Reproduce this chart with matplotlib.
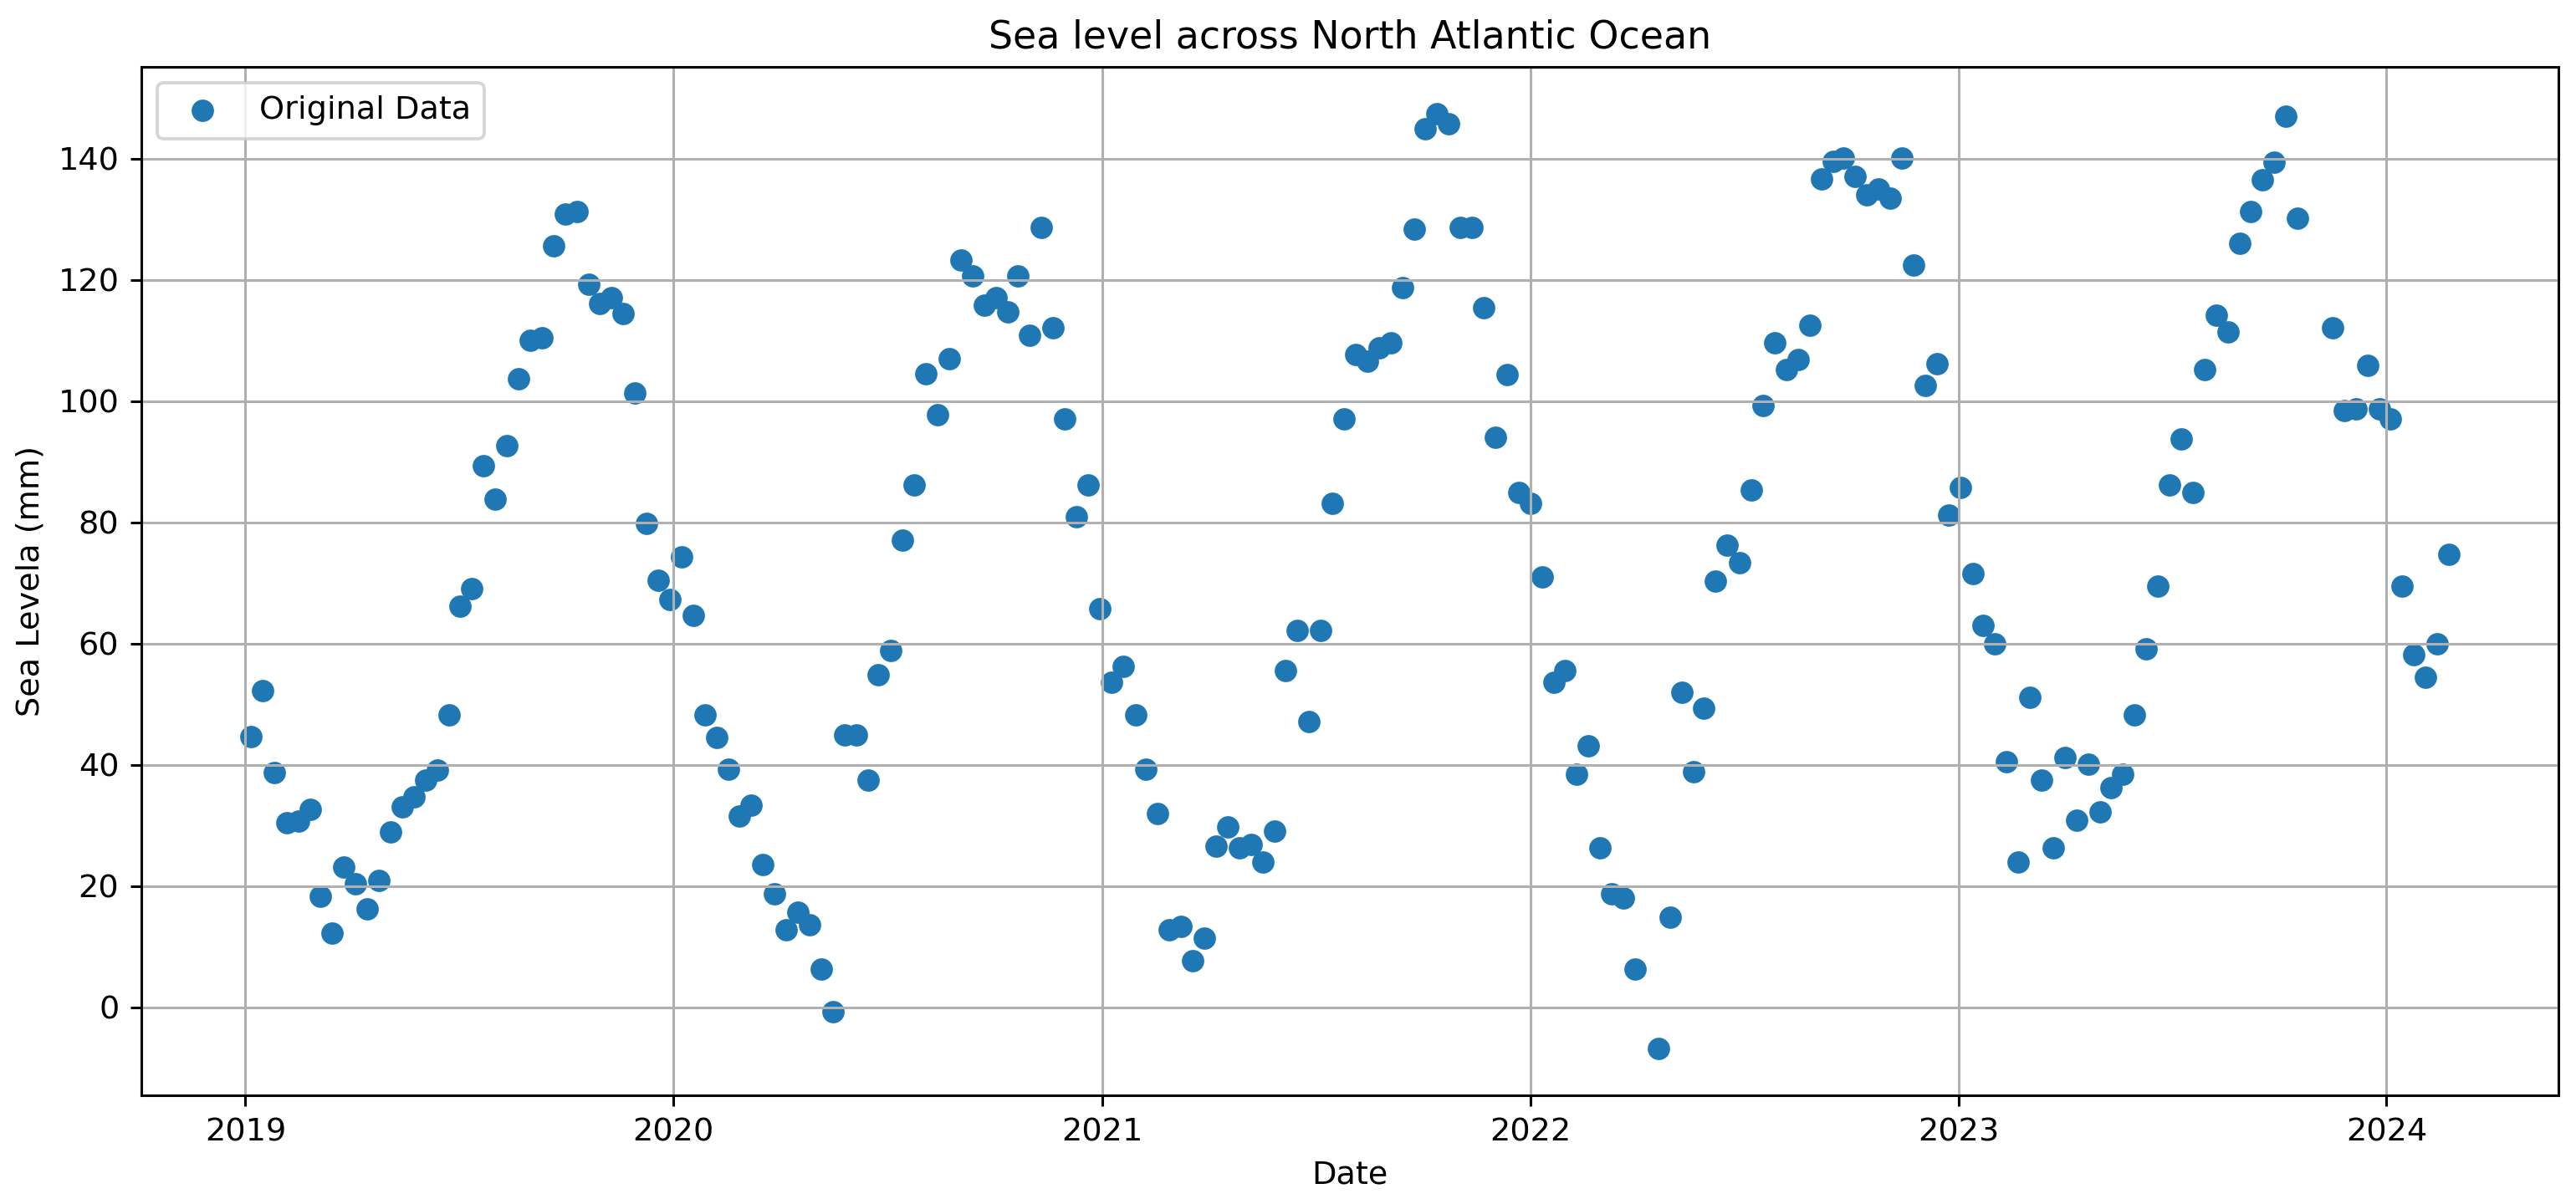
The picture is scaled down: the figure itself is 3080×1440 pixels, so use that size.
import pandas as pd
import matplotlib
matplotlib.use("Agg")
import matplotlib.pyplot as plt

# satellite passes (~10 day cycle), a few passes missing
dates = [
    # 2019
    "2019-01-06", "2019-01-16", "2019-01-26", "2019-02-05", "2019-02-15", "2019-02-25",
    "2019-03-06", "2019-03-16", "2019-03-26", "2019-04-05", "2019-04-15", "2019-04-25",
    "2019-05-05", "2019-05-15", "2019-05-25", "2019-06-04", "2019-06-14", "2019-06-24",
    "2019-07-03", "2019-07-13", "2019-07-23", "2019-08-02", "2019-08-12", "2019-08-22",
    "2019-09-01", "2019-09-11", "2019-09-21", "2019-10-01", "2019-10-11", "2019-10-21",
    "2019-10-30", "2019-11-09", "2019-11-19", "2019-11-29", "2019-12-09", "2019-12-19",
    "2019-12-29",
    # 2020
    "2020-01-08", "2020-01-18", "2020-01-28", "2020-02-07", "2020-02-17", "2020-02-26",
    "2020-03-07", "2020-03-17", "2020-03-27", "2020-04-06", "2020-04-16", "2020-04-26",
    "2020-05-06", "2020-05-16", "2020-05-26", "2020-06-05", "2020-06-15", "2020-06-24",
    "2020-07-04", "2020-07-14", "2020-07-24", "2020-08-03", "2020-08-13", "2020-08-23",
    "2020-09-02", "2020-09-12", "2020-09-22", "2020-10-02", "2020-10-12", "2020-10-21",
    "2020-10-31", "2020-11-10", "2020-11-20", "2020-11-30", "2020-12-10", "2020-12-20",
    "2020-12-30",
    # 2021
    "2021-01-09", "2021-01-19", "2021-01-29", "2021-02-07", "2021-02-17", "2021-02-27",
    "2021-03-09", "2021-03-19", "2021-03-29", "2021-04-08", "2021-04-18", "2021-04-28",
    "2021-05-08", "2021-05-18", "2021-05-28", "2021-06-06", "2021-06-16", "2021-06-26",
    "2021-07-06", "2021-07-16", "2021-07-26", "2021-08-05", "2021-08-15", "2021-08-25",
    "2021-09-04", "2021-09-14", "2021-09-24", "2021-10-03", "2021-10-13", "2021-10-23",
    "2021-11-02", "2021-11-12", "2021-11-22", "2021-12-02", "2021-12-12", "2021-12-22",
    # 2022
    "2022-01-01", "2022-01-11", "2022-01-21", "2022-01-30", "2022-02-09", "2022-02-19",
    "2022-03-01", "2022-03-11", "2022-03-21", "2022-03-31", "2022-04-20", "2022-04-30",
    "2022-05-10", "2022-05-20", "2022-05-29", "2022-06-08", "2022-06-18", "2022-06-28",
    "2022-07-08", "2022-07-18", "2022-07-28", "2022-08-07", "2022-08-17", "2022-08-27",
    "2022-09-06", "2022-09-16", "2022-09-25", "2022-10-05", "2022-10-15", "2022-10-25",
    "2022-11-04", "2022-11-14", "2022-11-24", "2022-12-04", "2022-12-14", "2022-12-24",
    # 2023
    "2023-01-03", "2023-01-13", "2023-01-22", "2023-02-01", "2023-02-11", "2023-02-21",
    "2023-03-03", "2023-03-13", "2023-03-23", "2023-04-02", "2023-04-12", "2023-04-22",
    "2023-05-02", "2023-05-11", "2023-05-21", "2023-05-31", "2023-06-10", "2023-06-20",
    "2023-06-30", "2023-07-10", "2023-07-20", "2023-07-30", "2023-08-09", "2023-08-19",
    "2023-08-29", "2023-09-07", "2023-09-17", "2023-09-27", "2023-10-07", "2023-10-17",
    "2023-11-16", "2023-11-26", "2023-12-06", "2023-12-16", "2023-12-26",
    # 2024
    "2024-01-04", "2024-01-14", "2024-01-24", "2024-02-03", "2024-02-13", "2024-02-23",
]

# sea level in mm
sea_level = [
    # 2019
    44.6, 52.3, 38.7, 30.5, 30.7, 32.7, 18.3, 12.2, 23.2, 20.4, 16.3, 20.9,
    28.9, 33.1, 34.7, 37.5, 39.1, 48.2, 66.2, 69.1, 89.3, 83.8, 92.7, 103.7,
    110.0, 110.4, 125.6, 130.8, 131.2, 119.2, 116.1, 117.0, 114.4, 101.4, 79.8, 70.5,
    67.3,
    # 2020
    74.3, 64.6, 48.2, 44.5, 39.3, 31.6, 33.4, 23.5, 18.7, 12.8, 15.7, 13.6,
    6.3, -0.7, 44.9, 44.9, 37.5, 54.8, 58.9, 77.1, 86.1, 104.5, 97.8, 107.0,
    123.2, 120.6, 115.8, 117.0, 114.7, 120.6, 110.8, 128.7, 112.1, 97.0, 80.9, 86.1,
    65.7,
    # 2021
    53.6, 56.2, 48.2, 39.3, 32.0, 12.8, 13.4, 7.7, 11.4, 26.6, 29.7, 26.3,
    26.8, 24.0, 29.1, 55.5, 62.1, 47.1, 62.1, 83.1, 97.0, 107.7, 106.6, 108.8,
    109.6, 118.7, 128.3, 144.9, 147.4, 145.7, 128.7, 128.7, 115.4, 94.0, 104.4, 84.9,
    # 2022
    83.1, 71.0, 53.6, 55.5, 38.4, 43.1, 26.3, 18.7, 18.1, 6.3, -6.8, 14.8,
    52.0, 38.8, 49.4, 70.3, 76.2, 73.3, 85.4, 99.3, 109.6, 105.2, 106.9, 112.5,
    136.7, 139.5, 140.1, 137.1, 134.0, 135.0, 133.5, 140.1, 122.4, 102.6, 106.2, 81.2,
    # 2023
    85.7, 71.6, 63.0, 60.0, 40.5, 24.0, 51.2, 37.5, 26.3, 41.2, 30.8, 40.1,
    32.2, 36.2, 38.4, 48.2, 59.2, 69.5, 86.1, 93.8, 84.9, 105.2, 114.1, 111.4,
    126.0, 131.2, 136.5, 139.4, 147.0, 130.2, 112.1, 98.4, 98.7, 105.9, 98.7,
    # 2024
    97.0, 69.5, 58.1, 54.5, 60.0, 74.7,
]

df = pd.DataFrame({"date": pd.to_datetime(dates), "level": sea_level})

fig = plt.figure(figsize=(11.2, 1440 / 275), dpi=275)
ax = fig.add_subplot(1, 1, 1)
fig.subplots_adjust(left=0.0549, right=0.9932, top=0.9444, bottom=0.0903)

ax.scatter(df["date"], df["level"], label="Original Data")

ax.set_title("Sea level across North Atlantic Ocean")
ax.set_xlabel("Date")
ax.set_ylabel("Sea Levela (mm)")
ax.legend(loc="upper left")
ax.grid(True)

plt.savefig("out.png", dpi=275)
